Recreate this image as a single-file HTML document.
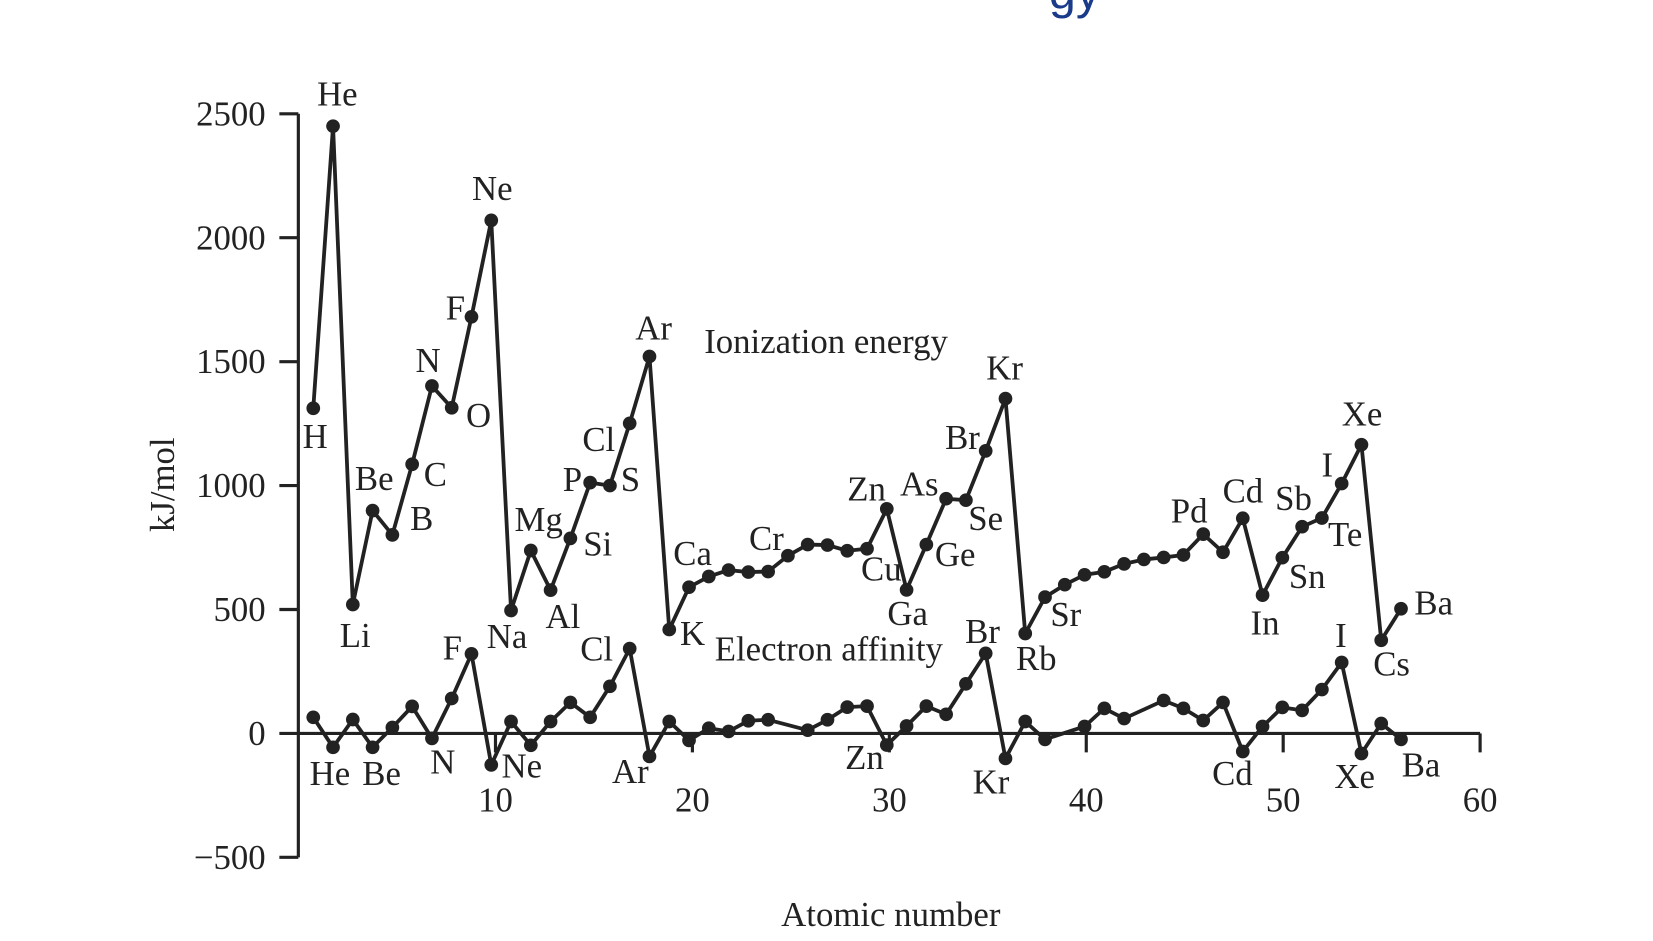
<!DOCTYPE html>
<html><head><meta charset="utf-8"><style>
html,body{margin:0;padding:0;background:#fff;}
svg{display:block;}
text{font-family:"Liberation Serif",serif;fill:#222;}
</style></head><body>
<svg id="chart" width="1653" height="941" viewBox="0 0 1568 893" preserveAspectRatio="none" xmlns="http://www.w3.org/2000/svg">
<text x="995" y="8" style="font-family:'Liberation Sans',sans-serif;font-size:46px;fill:#1a3a8a">gy</text>
<g id="axes"></g>
<g id="series"></g>
<g id="labels"></g>
</svg>
<script>
const atomicNumbers = Array.from({length:56},(_,i)=>i+1);
const ionizationEnergy = [1312,2450,520,899,801,1086,1402,1314,1681,2070,496,738,578,787,1012,1000,1251,1521,419,590,633,659,651,653,717,762,760,737,745,906,579,762,947,941,1140,1351,403,550,600,640,652,684,702,710,720,804,731,868,558,709,834,869,1008,1165,376,503];
const electronAffinity = [65,-56,56,-56,24,109,-20,141,321,-127,48,-48,48,125,65,190,342,-93,48,-28,21,8,51,55,null,13,55,106,110,-47,30,110,77,200,323,-101,48,-24,null,28,101,60,null,133,101,52,125,-73,28,105,93,177,286,-81,40,-24];
const yTicks = [2500,2000,1500,1000,500,0,-500];
const xTicks = [10,20,30,40,50,60];
const ieLabels = [["He",320,100],["Ne",467,190],["F",432,303],["N",406,353],["O",454,405],["H",299,425],["Be",355,465],["C",413,461],["B",400,503],["Li",337,614],["Na",481,615],["Mg",511,504],["Al",534,596],["Si",567,527],["P",543,466],["S",598,466],["Cl",568,428],["Ar",620,322],["Ca",657,536],["K",657,612],["Cr",727,522],["Zn",822,475],["As",872,470],["Cu",836,551],["Ga",861,593],["Ge",906,537],["Se",935,503],["Br",913,426],["Kr",953,360],["Rb",983,636],["Sr",1011,594],["Pd",1128,496],["Cd",1179,477],["Sb",1227,484],["I",1259,452],["Te",1276,518],["Xe",1292,404],["Sn",1240,558],["In",1200,602],["Cs",1320,641],["Ba",1360,583]];
const eaLabels = [["F",429,626],["Cl",566,627],["Br",932,610],["I",1272,614],["He",313,745],["Be",362,745],["N",420,734],["Ne",495,738],["Ar",598,743],["Zn",820,730],["Kr",940,753],["Cd",1169,745],["Xe",1285,748],["Ba",1348,737]];

const NS="http://www.w3.org/2000/svg";
const FS=33;
const X = z => 466 + (z-10)*18.76;
const Y = v => 696 - v*0.2352;
function mk(tag, attrs, parent){const e=document.createElementNS(NS,tag);for(const k in attrs)e.setAttribute(k,attrs[k]);parent.appendChild(e);return e;}
const axes=document.getElementById('axes'), series=document.getElementById('series'), labels=document.getElementById('labels');

let e=mk('line',{x1:283,y1:Y(2500),x2:283,y2:Y(-500),stroke:'#222','stroke-width':3},axes);


e=mk('line',{x1:283,y1:Y(0),x2:1404,y2:Y(0),stroke:'#222','stroke-width':3},axes);


yTicks.forEach(v=>{
  let t=mk('line',{x1:265,y1:Y(v),x2:283,y2:Y(v),stroke:'#222','stroke-width':3},axes);
  
  
  let l=mk('text',{x:252,y:Y(v)+11,'text-anchor':'end','font-size':FS},axes);
  l.textContent = v<0 ? '\u2212'+Math.abs(v) : String(v);
  
  
});
xTicks.forEach(z=>{
  const tx = 470 + (z-10)*18.68;
  let t=mk('line',{x1:tx,y1:Y(0),x2:tx,y2:Y(0)+18,stroke:'#222','stroke-width':3},axes);
  
  
  let l=mk('text',{x:tx,y:770,'text-anchor':'middle','font-size':FS},axes);
  l.textContent=String(z);
  
  
});
let yt=mk('text',{x:0,y:0,transform:'translate(165,460) rotate(-90)','text-anchor':'middle','font-size':FS},axes);
yt.textContent='kJ/mol';


let xt=mk('text',{x:845,y:879,'text-anchor':'middle','font-size':FS},axes);
xt.textContent='Atomic number';



function drawSeries(vals,name){
  const pts=[];
  vals.forEach((v,i)=>{ if(v!==null) pts.push([X(atomicNumbers[i]),Y(v)]); });
  let p=mk('polyline',{points:pts.map(p=>p.join(',')).join(' '),fill:'none',stroke:'#222','stroke-width':3.6,'stroke-linejoin':'round'},series);
  
  
  pts.forEach(q=>{
    let c=mk('circle',{cx:q[0],cy:q[1],r:6.5,fill:'#222'},series);
    
    
  });
}
drawSeries(ionizationEnergy,'ionization-energy');
drawSeries(electronAffinity,'electron-affinity');

function drawLabels(arr,name){
  arr.forEach(a=>{
    let t=mk('text',{x:a[1],y:a[2],'text-anchor':'middle','font-size':FS},labels);
    t.textContent=a[0];
    
    
  });
}
drawLabels(ieLabels,'ionization');
drawLabels(eaLabels,'affinity');
let s1=mk('text',{x:668,y:335,'font-size':FS},labels);
s1.textContent='Ionization energy';


let s2=mk('text',{x:678,y:627,'font-size':FS},labels);
s2.textContent='Electron affinity';


</script>
</body></html>
